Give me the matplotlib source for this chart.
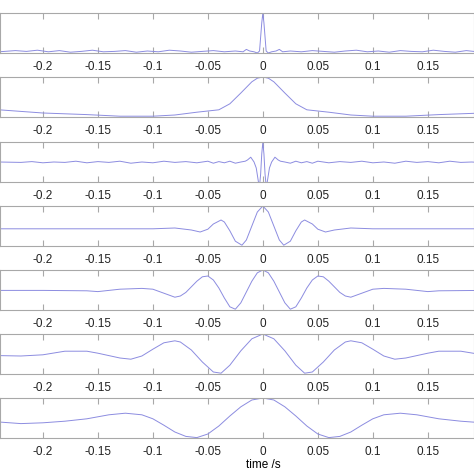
import numpy as np
import matplotlib
matplotlib.use("Agg")
import matplotlib.pyplot as plt

# half-curves (t >= 0); mirrored for t < 0
t1 = [0, 0.001, 0.002, 0.003, 0.005, 0.008, 0.012, 0.015, 0.018, 0.025, 0.035, 0.045,
      0.055, 0.065, 0.075, 0.085, 0.095, 0.105, 0.115, 0.125, 0.135, 0.145, 0.155,
      0.165, 0.175, 0.185, 0.195, 0.205, 0.215, 0.225, 0.24]
v1 = [1.0, 0.75, 0.4, 0.05, 0.0, 0.03, 0.05, 0.09, 0.03, 0.05, 0.03, 0.06,
      0.04, 0.02, 0.05, 0.07, 0.03, 0.05, 0.02, 0.06, 0.04, 0.03, 0.07,
      0.04, 0.02, 0.06, 0.03, 0.07, 0.04, 0.06, 0.03]

t2 = [0, 0.005, 0.01, 0.02, 0.03, 0.04, 0.05, 0.06, 0.08, 0.1, 0.13, 0.16, 0.2, 0.24]
v2 = [1.0, 0.97, 0.88, 0.6, 0.33, 0.18, 0.15, 0.12, 0.05, 0.02, 0.02, 0.06, 0.1, 0.18]

t3 = [0, 0.001, 0.002, 0.003, 0.004, 0.006, 0.008, 0.011, 0.014, 0.016, 0.02, 0.025,
      0.03, 0.035, 0.04, 0.045, 0.05, 0.06, 0.07, 0.08, 0.09, 0.1, 0.11, 0.12, 0.13,
      0.14, 0.15, 0.16, 0.17, 0.18, 0.19, 0.2, 0.21, 0.22, 0.24]
v3 = [1.0, 0.7, 0.2, -0.1, 0.0, 0.35, 0.5, 0.62, 0.55, 0.52, 0.5, 0.47,
      0.52, 0.48, 0.51, 0.47, 0.52, 0.48, 0.51, 0.49, 0.52, 0.48, 0.5, 0.47, 0.52,
      0.49, 0.51, 0.48, 0.52, 0.49, 0.5, 0.48, 0.51, 0.49, 0.5]

t4 = [0, 0.005, 0.01, 0.015, 0.019, 0.025, 0.03, 0.035, 0.038, 0.045, 0.05, 0.057,
      0.065, 0.08, 0.1, 0.24]
v4 = [1.0, 0.85, 0.5, 0.15, 0.02, 0.12, 0.38, 0.6, 0.65, 0.55, 0.42, 0.35,
      0.4, 0.45, 0.43, 0.43]

t5 = [0, 0.005, 0.01, 0.015, 0.02, 0.025, 0.03, 0.035, 0.04, 0.045, 0.05, 0.055, 0.06,
      0.065, 0.07, 0.075, 0.08, 0.09, 0.1, 0.11, 0.13, 0.15, 0.16, 0.2, 0.24]
v5 = [1.0, 0.93, 0.72, 0.45, 0.18, 0.02, 0.08, 0.3, 0.55, 0.75, 0.85, 0.83, 0.72,
      0.58, 0.44, 0.35, 0.32, 0.42, 0.52, 0.54, 0.52, 0.46, 0.48, 0.49, 0.49]

t6 = [0, 0.01, 0.02, 0.03, 0.038, 0.045, 0.055, 0.065, 0.075, 0.08, 0.09, 0.1, 0.11,
      0.12, 0.13, 0.15, 0.16, 0.18, 0.2, 0.22, 0.24]
v6 = [1.0, 0.88, 0.58, 0.22, 0.02, 0.05, 0.3, 0.6, 0.8, 0.83, 0.78, 0.62, 0.45,
      0.37, 0.4, 0.52, 0.57, 0.57, 0.48, 0.45, 0.46]

t7 = [0, 0.01, 0.02, 0.03, 0.04, 0.05, 0.06, 0.07, 0.08, 0.09, 0.1, 0.11, 0.125,
      0.14, 0.16, 0.18, 0.2, 0.22, 0.24]
v7 = [1.0, 0.95, 0.78, 0.55, 0.3, 0.1, 0.01, 0.04, 0.15, 0.32, 0.48, 0.58, 0.62,
      0.58, 0.48, 0.42, 0.38, 0.36, 0.4]

curves = [(t1, v1), (t2, v2), (t3, v3), (t4, v4), (t5, v5), (t6, v6), (t7, v7)]
xticks = [-0.2, -0.15, -0.1, -0.05, 0, 0.05, 0.1, 0.15]
xtick_labels = ["-0.2", "-0.15", "-0.1", "-0.05", "0", "0.05", "0.1", "0.15"]

LINE = "#8c8ce0"
GRID = "#a8a8a8"
W = H = 474

plt.rcParams["font.family"] = ["Liberation Sans", "DejaVu Sans"]
fig = plt.figure(figsize=(W / 100, H / 100), dpi=100)
tops = [13, 77, 142, 206, 270, 334, 398]
for top, (t, v) in zip(tops, curves):
    ax = fig.add_axes([0, 1 - (top + 40) / H, 1, 40 / H])
    t = np.asarray(t)
    v = np.asarray(v)
    tt = np.concatenate([-t[::-1], t[1:]])
    vv = np.concatenate([v[::-1], v[1:]])
    ax.plot(tt, vv, color=LINE, lw=0.7)
    ax.set_xlim(-0.239, 0.192)
    ax.set_ylim(0, 1)
    ax.set_yticks([])
    ax.set_xticks(xticks)
    ax.set_xticklabels(xtick_labels, fontsize=8.5)
    ax.tick_params(axis="x", direction="in", length=4, color=GRID,
                   top=True, pad=6, labelcolor="#222222")
    for s in ax.spines.values():
        s.set_color(GRID)
        s.set_linewidth(0.8)

fig.text(263 / W, 1 - 465 / H, "time /s", ha="center", va="center", fontsize=8.5)
fig.savefig("out.png", dpi=100)
